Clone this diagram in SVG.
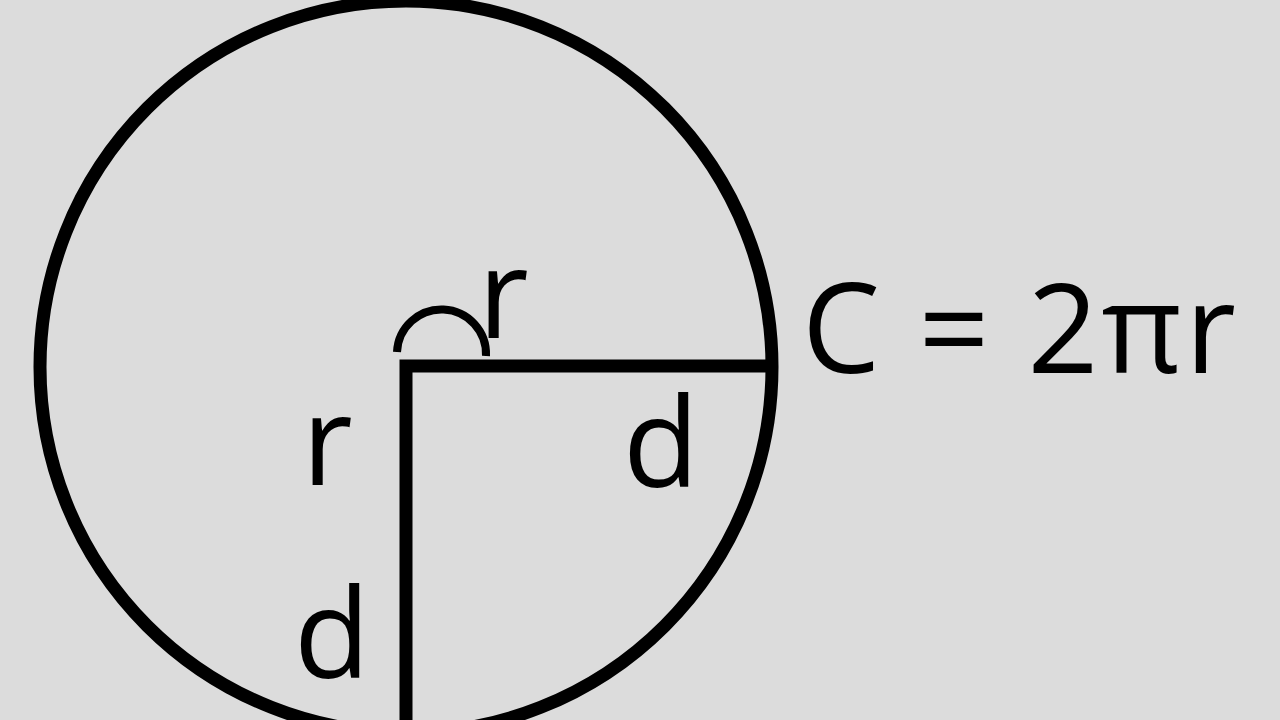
<svg xmlns="http://www.w3.org/2000/svg" width="1280" height="720" viewBox="0 0 1280 720">
<style>
.ln{fill:none;stroke:#000;stroke-width:13}
.lb{font-family:"Open Sans","Noto Sans",sans-serif;font-size:124px;fill:#000}
</style>
<rect width="1280" height="720" fill="#dcdcdc"/>
<g id="circle"><circle class="ln" cx="406" cy="367" r="366"/></g>
<g id="connectors">
<path class="ln" d="M406 720 V366 H770"/>
<path id="angle" fill="none" stroke="#000" stroke-width="8" d="M397 352 A44.5 44.5 0 0 1 486 356"/>
</g>
<g id="labels">
<text class="lb" x="478" y="338">r</text>
<text class="lb" x="302" y="485">r</text>
<text class="lb" x="623" y="487">d</text>
<text class="lb" x="294" y="678">d</text>
<text class="lb" x="802" y="373" textLength="434" lengthAdjust="spacing">C = 2πr</text>
</g>
</svg>
